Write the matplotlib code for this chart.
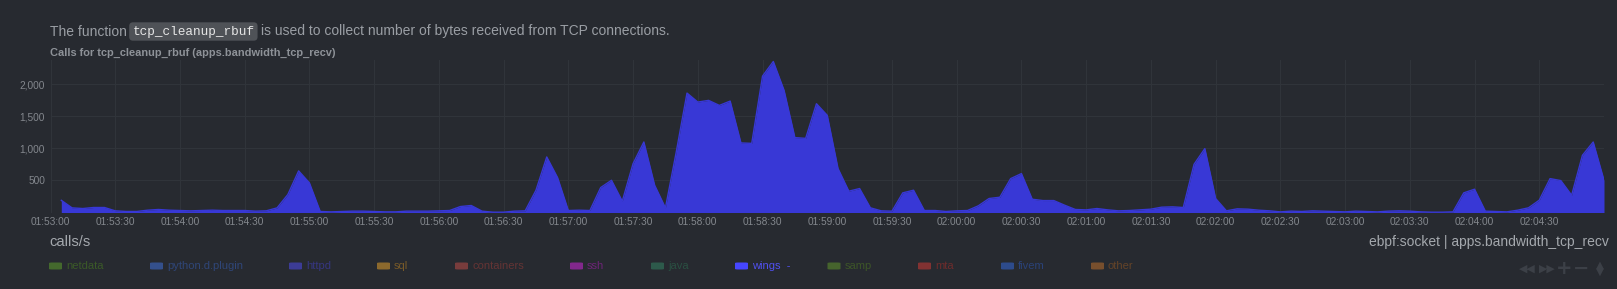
import matplotlib
matplotlib.use("Agg")
import matplotlib.pyplot as plt
import matplotlib.dates as mdates
from matplotlib.patches import FancyBboxPatch
import pandas as pd

W, H = 1617, 289

# ---------------- data ----------------
start_time = "2024-01-01 01:53:05"
step_seconds = 5
calls_per_sec = [
    190, 72, 62, 78, 78, 26, 16, 16, 36, 47, 36, 31, 26, 31, 36, 31, 31, 31, 21, 26,
    72, 280, 648, 461, 16, 10, 16, 21, 21, 16, 10, 10, 21, 21, 21, 26, 31, 93, 109, 21,
    5, 5, 21, 26, 347, 865, 544, 31, 36, 31, 389, 502, 176, 761, 1098, 425, 72, 940, 1860, 1720,
    1746, 1668, 1735, 1083, 1077, 2124, 2352, 1901, 1166, 1155, 1694, 1513, 684, 332, 373, 73, 26, 21, 306, 347,
    31, 31, 16, 26, 31, 104, 218, 238, 528, 606, 207, 186, 186, 114, 47, 41, 62, 41, 26, 31,
    41, 52, 83, 88, 78, 751, 995, 218, 26, 57, 52, 36, 26, 10, 21, 16, 26, 21, 16, 10,
    21, 16, 10, 21, 26, 21, 10, 5, 5, 10, 306, 363, 21, 16, 10, 36, 73, 192, 528, 497,
    269, 891, 1098, 502,
]
x_start = "2024-01-01 01:53:00"
x_end = "2024-01-01 02:05:00"
x_last_label = "2024-01-01 02:04:30"
y_ticks = [500, 1000, 1500, 2000]
y_max = 2375

legend_names = ["netdata", "python.d.plugin", "httpd", "sql", "containers", "ssh",
                "java", "wings", "samp", "mta", "fivem", "other"]
legend_swatch = ["#44692d", "#34508c", "#3c3c96", "#8c692d", "#783c3c", "#82288c",
                 "#2d5a4b", "#4646ff", "#46642d", "#823232", "#2d4b8c", "#784f2d"]
legend_text = ["#3b5a28", "#2f4678", "#363680", "#785a28", "#653434", "#6e2478",
               "#2a5042", "#5050f0", "#3d5628", "#6e2c2c", "#2a4278", "#654428"]
legend_x = [49, 150, 289, 377, 455, 570, 651, 735, 827.5, 918, 1001, 1091]

title_pre = "The function"
title_code = "tcp_cleanup_rbuf"
title_post = "is used to collect number of bytes received from TCP connections."
subtitle = "Calls for tcp_cleanup_rbuf (apps.bandwidth_tcp_recv)"
units = "calls/s"
context = "ebpf:socket | apps.bandwidth_tcp_recv"

BG = "#272a30"
GRID = "#30343a"
FILL = "#3838d6"
TXT = "#9a9ea4"
TICK = "#83878d"
FONT = "Liberation Sans"

times = pd.date_range(start_time, periods=len(calls_per_sec), freq=f"{step_seconds}s")
tick_times = pd.date_range(x_start, x_last_label, freq="30s")


def fx(px):
    return px / W


def fy(py):
    return 1 - py / H


fig = plt.figure(figsize=(W / 100, H / 100), dpi=100)
fig.patch.set_facecolor(BG)

ax = fig.add_axes([fx(50.5), fy(212.5), fx(1604) - fx(50.5), fy(60) - fy(212.5)])
ax.set_facecolor(BG)
ax.fill_between(times, calls_per_sec, 0, color=FILL, linewidth=0)
ax.plot(times, calls_per_sec, color=FILL, linewidth=1)
ax.set_xlim(pd.Timestamp(x_start), pd.Timestamp(x_end))
ax.set_ylim(0, y_max)
ax.set_yticks(y_ticks)
ax.set_yticklabels([f"{v:,}" for v in y_ticks])
ax.set_xticks(tick_times)
ax.xaxis.set_major_formatter(mdates.DateFormatter("%H:%M:%S"))
for s in ax.spines.values():
    s.set_visible(False)
ax.grid(True, color=GRID, linewidth=0.8)
ax.set_axisbelow(True)
ax.tick_params(axis="both", length=0, colors=TICK, labelsize=7.3, pad=4)
ax.tick_params(axis="x", pad=3)
for lab in ax.get_xticklabels() + ax.get_yticklabels():
    lab.set_fontfamily(FONT)

# ---------------- title with inline code ----------------
fig.canvas.draw()
r = fig.canvas.get_renderer()
TY = 31.5
t1 = fig.text(fx(49.5), fy(TY), title_pre, fontsize=10, color=TXT, family=FONT, va="center")
bb = t1.get_window_extent(r)
x_code = bb.x1 + 6
t2 = fig.text(x_code / W, fy(TY), title_code, fontsize=9.2, color="#e6e6e6",
              family="Liberation Mono", va="center",
              bbox=dict(boxstyle="round,pad=0.25,rounding_size=0.3", fc="#4f5257", ec="none"))
bb2 = t2.get_window_extent(r)
t3 = fig.text((bb2.x1 + 7) / W, fy(TY), title_post, fontsize=10, color=TXT, family=FONT, va="center")

fig.text(fx(49.5), fy(53), subtitle, fontsize=7.9, color="#8e9298", family=FONT,
         fontweight="bold", va="center")

# ---------------- bottom texts ----------------
fig.text(fx(49.5), fy(242), units, fontsize=10.6, color="#a4a8ad", family=FONT, va="center")
fig.text(fx(1609), fy(242), context, fontsize=10, color="#a4a8ad", family=FONT,
         va="center", ha="right")

# legend
for name, sc, tc, lx in zip(legend_names, legend_swatch, legend_text, legend_x):
    fig.patches.append(FancyBboxPatch((fx(lx), fy(269.5)), fx(13), fy(0) - fy(7),
                                      boxstyle="round,pad=0,rounding_size=0.002",
                                      transform=fig.transFigure, fc=sc, ec="none"))
    label = name + "  -" if name == "wings" else name
    fig.text(fx(lx + 17), fy(266), label, fontsize=8, color=tc, family=FONT, va="center")

# navigation icons
ICON = "#3c4047"
IY = 268.5
fig.text(fx(1527.5), fy(IY), "◀◀", fontsize=7.8, color=ICON, family="DejaVu Sans", va="center", ha="center")
fig.text(fx(1547.5), fy(IY), "▶▶", fontsize=7.8, color=ICON, family="DejaVu Sans", va="center", ha="center")
fig.text(fx(1564), fy(IY), "+", fontsize=14, color=ICON, family="DejaVu Sans", va="center", ha="center", fontweight="bold")
fig.text(fx(1581.5), fy(IY), "−", fontsize=14, color=ICON, family="DejaVu Sans", va="center", ha="center", fontweight="bold")
fig.text(fx(1599.5), fy(IY - 3.5), "▲", fontsize=7.5, color=ICON, family="DejaVu Sans", va="center", ha="center")
fig.text(fx(1599.5), fy(IY + 3.5), "▼", fontsize=7.5, color=ICON, family="DejaVu Sans", va="center", ha="center")

fig.savefig("out.png", dpi=100, facecolor=BG)
